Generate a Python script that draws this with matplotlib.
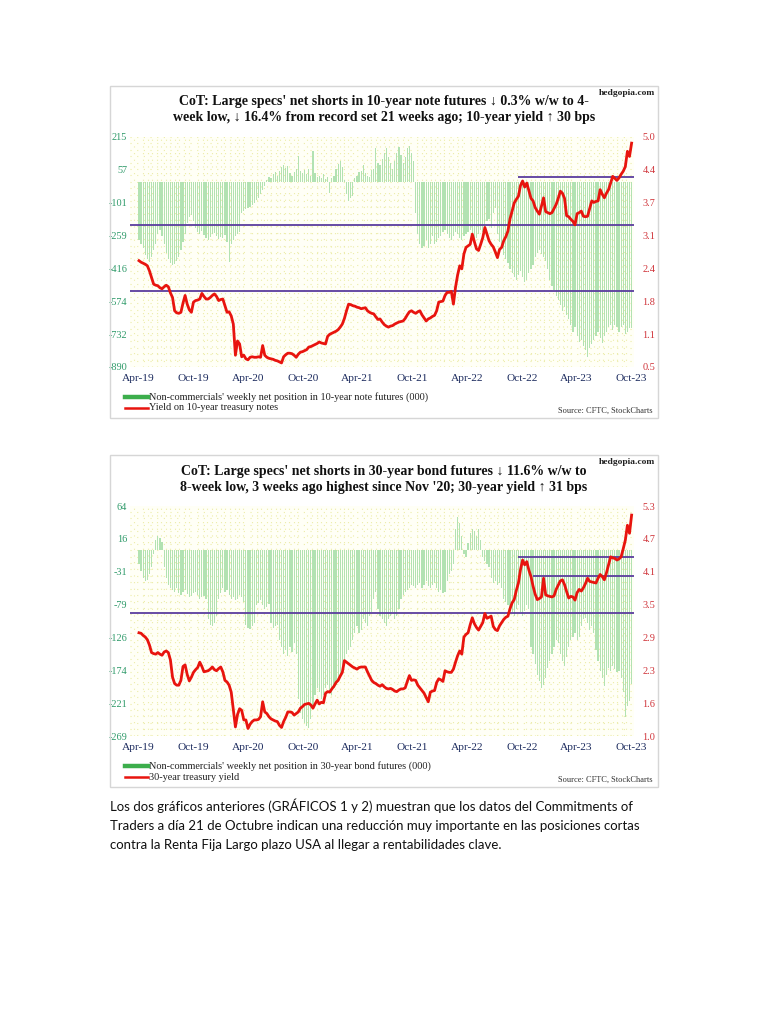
#!/usr/bin/env python3
"""CoT large specs net shorts in 10-year note and 30-year bond futures vs yields."""

import matplotlib
matplotlib.use("Agg")
import matplotlib.pyplot as plt
import matplotlib.dates as mdates
import numpy as np
import pandas as pd
from matplotlib.lines import Line2D
from matplotlib.patches import Rectangle

W, H = 768, 1024

# weekly CoT dates, Apr-2019 .. Oct-2023
weeks = pd.date_range("2019-04-02", periods=236, freq="7D")

tick_dates = pd.to_datetime([
    "2019-04-01", "2019-10-01", "2020-04-01", "2020-10-01", "2021-04-01",
    "2021-10-01", "2022-04-01", "2022-10-01", "2023-04-01", "2023-10-01",
])
tick_labels = ["Apr-19", "Oct-19", "Apr-20", "Oct-20", "Apr-21",
               "Oct-21", "Apr-22", "Oct-22", "Apr-23", "Oct-23"]

# ---- 10-year note: non-commercial net position (000) ----
note_pos_2019 = [-280, -300, -320, -350, -370, -385, -360, -330, -300, -250,
                 -230, -260, -300, -340, -370, -390, -400, -395, -380, -360,
                 -330, -290, -250, -200, -170, -160, -190, -220, -240, -250,
                 -235, -255, -270, -280, -265, -250, -245, -260, -275, -265]
note_pos_2020 = [-270, -255, -290, -387, -300, -280, -260, -250, -240, -150,
                 -140, -130, -125, -120, -110, -100, -90, -80, -60, -40,
                 -20, 10, 25, 20, 35, 45, 30, 50, 70, 80,
                 65, 75, 40, 30, 45, 60, 124, 50, 40, 55,
                 35, 60, 30, 147, 40, 25, 30, 20, 35, 15,
                 25, -54]
note_pos_2021 = [20, 30, 60, 85, 100, 70, 10, -60, -93, -80,
                 -70, 20, 30, 45, 50, 80, 40, 30, 25, 55,
                 60, 163, 90, 80, 110, 140, 160, 120, 90, 60,
                 100, 140, 165, 130, 90, 120, 160, 170, 140, 100,
                 -150, -250, -300, -320, -310, -280, -320, -300, -260, -300,
                 -290, -270]
note_pos_2022 = [-260, -240, -230, -250, -270, -280, -260, -240, -250, -270,
                 -280, -260, -250, -240, -230, -260, -280, -270, -250, -230,
                 -240, -210, -190, -180, -220, -150, -124, -250, -290, -320,
                 -350, -370, -390, -420, -440, -460, -470, -450, -430, -460,
                 -480, -470, -440, -420, -400, -360, -340, -330, -345, -360,
                 -380, -420]
note_pos_2023 = [-470, -500, -520, -550, -570, -590, -620, -600, -640, -660,
                 -690, -720, -700, -740, -770, -760, -790, -810, -841, -800,
                 -780, -760, -740, -720, -750, -775, -740, -720, -700, -690,
                 -710, -690, -700, -720, -700, -690, -730, -720, -705, -703]

# ---- 10-year treasury yield (%) ----
note_yld_2019 = [2.58, 2.55, 2.53, 2.51, 2.48, 2.38, 2.25, 2.12, 2.10, 2.09,
                 2.05, 2.03, 2.07, 2.10, 2.07, 1.95, 1.86, 1.60, 1.56, 1.55,
                 1.57, 1.75, 1.90, 1.73, 1.62, 1.57, 1.77, 1.80, 1.81, 1.83,
                 1.94, 1.88, 1.83, 1.83, 1.86, 1.90, 1.93, 1.88, 1.80, 1.82]
note_yld_2020 = [1.83, 1.70, 1.57, 1.58, 1.50, 1.34, 0.73, 1.01, 0.95, 0.70,
                 0.73, 0.66, 0.64, 0.69, 0.70, 0.69, 0.69, 0.70, 0.69, 0.92,
                 0.73, 0.69, 0.67, 0.66, 0.65, 0.63, 0.62, 0.60, 0.58, 0.70,
                 0.74, 0.77, 0.77, 0.76, 0.73, 0.69, 0.75, 0.79, 0.80, 0.82,
                 0.84, 0.89, 0.90, 0.92, 0.94, 0.96, 0.99, 0.97, 0.96, 0.95,
                 1.10, 1.14]
note_yld_2021 = [1.16, 1.18, 1.20, 1.23, 1.28, 1.34, 1.45, 1.60, 1.73, 1.72,
                 1.70, 1.69, 1.67, 1.66, 1.64, 1.65, 1.66, 1.60, 1.57, 1.55,
                 1.54, 1.48, 1.43, 1.44, 1.38, 1.33, 1.30, 1.28, 1.30, 1.31,
                 1.34, 1.36, 1.38, 1.39, 1.40, 1.45, 1.52, 1.58, 1.60, 1.57,
                 1.55, 1.58, 1.60, 1.52, 1.46, 1.40, 1.44, 1.46, 1.49, 1.51,
                 1.60, 1.77]
note_yld_2022 = [1.78, 1.79, 1.90, 1.96, 1.96, 1.98, 1.73, 2.06, 2.30, 2.48,
                 2.42, 2.71, 2.84, 2.87, 2.90, 3.10, 2.95, 2.81, 2.78, 2.90,
                 3.03, 3.23, 3.10, 2.97, 2.90, 2.85, 2.75, 2.64, 2.80, 2.84,
                 2.97, 3.05, 3.16, 3.40, 3.55, 3.71, 3.78, 3.84, 4.05, 4.14,
                 4.02, 4.10, 3.95, 3.80, 3.75, 3.62, 3.55, 3.49, 3.65, 3.81,
                 3.54, 3.52]
note_yld_2023 = [3.50, 3.52, 3.60, 3.68, 3.80, 3.94, 3.90, 3.80, 3.46, 3.44,
                 3.39, 3.35, 3.28, 3.50, 3.52, 3.55, 3.45, 3.44, 3.45, 3.60,
                 3.75, 3.72, 3.74, 3.75, 3.97, 3.88, 3.81, 3.90, 3.97, 4.10,
                 4.23, 4.19, 4.15, 4.20, 4.27, 4.33, 4.42, 4.72, 4.62, 4.88]

# ---- 30-year bond: non-commercial net position (000) ----
bond_pos_2019 = [-20, -30, -40, -45, -43, -35, -25, -5, 15, 20,
                 18, 12, -25, -40, -50, -55, -57, -60, -55, -62,
                 -65, -60, -58, -64, -68, -66, -62, -60, -65, -70,
                 -68, -66, -70, -100, -108, -110, -105, -95, -70, -62]
bond_pos_2020 = [-55, -60, -58, -65, -70, -68, -72, -70, -65, -68,
                 -75, -108, -112, -114, -110, -105, -80, -76, -72, -80,
                 -85, -82, -78, -105, -112, -110, -108, -130, -140, -150,
                 -145, -153, -140, -148, -135, -150, -215, -235, -245, -250,
                 -255, -258, -245, -230, -210, -200, -205, -215, -210, -200,
                 -195, -205]
bond_pos_2021 = [-210, -200, -195, -185, -180, -170, -160, -150, -145, -140,
                 -130, -120, -110, -120, -115, -100, -105, -110, -95, -90,
                 -70, -60, -85, -95, -100, -105, -110, -100, -95, -90,
                 -100, -95, -85, -70, -65, -60, -58, -55, -50, -52,
                 -55, -50, -48, -55, -50, -45, -52, -55, -50, -48,
                 -55, -60]
bond_pos_2022 = [-58, -62, -60, -45, -35, -30, -20, 30, 48, 40,
                 20, -5, -10, 10, 25, 30, 28, 20, 30, 15,
                 -10, -15, -20, -25, -40, -47, -45, -50, -48, -55,
                 -70, -75, -80, -85, -90, -95, -85, -80, -90, -95,
                 -88, -80, -85, -140, -150, -165, -180, -190, -200, -195,
                 -185, -170]
bond_pos_2023 = [-160, -150, -140, -130, -135, -150, -160, -167, -155, -140,
                 -130, -125, -120, -130, -125, -110, -100, -98, -105, -115,
                 -110, -120, -145, -160, -175, -185, -196, -180, -170, -175,
                 -168, -172, -177, -175, -185, -205, -242, -225, -218, -193]

# ---- 30-year treasury yield (%) ----
bond_yld_2019 = [2.93, 2.92, 2.88, 2.85, 2.80, 2.70, 2.56, 2.54, 2.53, 2.56,
                 2.53, 2.51, 2.57, 2.59, 2.56, 2.42, 2.10, 1.98, 1.95, 1.95,
                 2.04, 2.30, 2.33, 2.15, 2.03, 2.10, 2.19, 2.24, 2.28, 2.38,
                 2.30, 2.20, 2.21, 2.22, 2.25, 2.29, 2.24, 2.22, 2.26, 2.29]
bond_yld_2020 = [2.20, 2.04, 2.01, 1.95, 1.82, 1.50, 1.17, 1.40, 1.51, 1.48,
                 1.30, 1.30, 1.14, 1.22, 1.27, 1.30, 1.30, 1.31, 1.36, 1.64,
                 1.45, 1.42, 1.36, 1.32, 1.30, 1.28, 1.27, 1.20, 1.16, 1.27,
                 1.35, 1.45, 1.45, 1.44, 1.39, 1.42, 1.45, 1.52, 1.55, 1.59,
                 1.60, 1.61, 1.58, 1.52, 1.60, 1.67, 1.60, 1.63, 1.62, 1.80,
                 1.83, 1.82]
bond_yld_2021 = [1.88, 1.93, 2.00, 2.04, 2.12, 2.19, 2.41, 2.38, 2.35, 2.32,
                 2.29, 2.27, 2.25, 2.28, 2.29, 2.29, 2.29, 2.20, 2.12, 2.04,
                 2.00, 1.98, 1.95, 1.93, 1.96, 1.92, 1.89, 1.88, 1.89, 1.87,
                 1.84, 1.83, 1.86, 1.88, 1.88, 1.90, 2.02, 2.13, 2.04, 2.05,
                 2.04, 1.95, 1.90, 1.85, 1.80, 1.72, 1.64, 1.82, 1.84, 1.85,
                 2.00, 2.07]
bond_yld_2022 = [2.05, 2.02, 2.22, 2.20, 2.19, 2.19, 2.25, 2.38, 2.50, 2.59,
                 2.53, 2.85, 2.90, 2.93, 3.08, 3.21, 3.10, 3.03, 2.98, 3.05,
                 3.12, 3.29, 3.20, 3.22, 3.24, 3.05, 2.99, 2.97, 3.06, 3.12,
                 3.18, 3.22, 3.24, 3.38, 3.49, 3.55, 3.72, 3.86, 4.11, 4.29,
                 4.20, 4.26, 4.10, 3.98, 3.80, 3.65, 3.55, 3.57, 3.60, 3.95,
                 3.64, 3.62]
bond_yld_2023 = [3.61, 3.60, 3.62, 3.74, 3.82, 3.90, 3.92, 3.83, 3.70, 3.58,
                 3.61, 3.60, 3.54, 3.68, 3.74, 3.71, 3.77, 3.85, 3.95, 3.89,
                 3.88, 3.87, 3.86, 3.95, 4.02, 3.98, 3.92, 4.05, 4.20, 4.35,
                 4.33, 4.32, 4.29, 4.31, 4.35, 4.50, 4.66, 4.94, 4.79, 5.13]

note_pos = note_pos_2019 + note_pos_2020 + note_pos_2021 + note_pos_2022 + note_pos_2023
note_yld = note_yld_2019 + note_yld_2020 + note_yld_2021 + note_yld_2022 + note_yld_2023
bond_pos = bond_pos_2019 + bond_pos_2020 + bond_pos_2021 + bond_pos_2022 + bond_pos_2023
bond_yld = bond_yld_2019 + bond_yld_2020 + bond_yld_2021 + bond_yld_2022 + bond_yld_2023

note_left_labels = ["-890", "-732", "-574", "-416", "-259", "-101", "57", "215"]
note_right_labels = ["0.5", "1.1", "1.8", "2.4", "3.1", "3.7", "4.4", "5.0"]
bond_left_labels = ["-269", "-221", "-174", "-126", "-79", "-31", "16", "64"]
bond_right_labels = ["1.0", "1.6", "2.3", "2.9", "3.5", "4.1", "4.7", "5.3"]

# support / resistance levels on the yield axis: (level, start date or None)
note_levels = [(3.27, None), (1.99, None), (4.22, "2022-09-20")]
bond_levels = [(3.30, None), (4.34, "2022-09-20"), (4.00, "2022-11-08")]

note_title = ["CoT: Large specs' net shorts in 10-year note futures \u2193 0.3% w/w to 4-",
              "week low, \u2193 16.4% from record set 21 weeks ago; 10-year yield \u2191 30 bps"]
bond_title = ["CoT: Large specs' net shorts in 30-year bond futures \u2193 11.6% w/w to",
              "8-week low, 3 weeks ago highest since Nov '20; 30-year yield \u2191 31 bps"]
note_legend = ["Non-commercials' weekly net position in 10-year note futures (000)",
               "Yield on 10-year treasury notes"]
bond_legend = ["Non-commercials' weekly net position in 30-year bond futures (000)",
               "30-year treasury yield"]

paragraph = [
    "Los dos gráficos anteriores (GRÁFICOS 1 y 2) muestran que los datos del Commitments of",
    "Traders a día 21 de Octubre indican una reducción muy importante en las posiciones cortas",
    "contra la Renta Fija Largo plazo USA al llegar a rentabilidades clave.",
]

SERIF = ["Liberation Serif", "DejaVu Serif"]
GREEN_TXT = "#2f9a6a"
RED_TXT = "#d0343a"
NAVY = "#1c2b5e"
BAR = "#b2e2b2"
RED = "#e8140e"
PURPLE = "#5a3d9e"


def fx(x):
    return x / W


def fy(y):
    return 1 - y / H


def panel(fig, top, pos, yld, left_labels, left_lim, right_labels, right_lim,
          levels, title, legend):
    # top = y pixel of the chart frame's upper edge
    frame = Rectangle((fx(110), fy(top + 332)), 548 / W, 332 / H,
                      transform=fig.transFigure, fill=False,
                      ec="#d6d6d6", lw=1.0)
    fig.patches.append(frame)

    fig.text(fx(655), fy(top + 7), "hedgopia.com", ha="right", va="center",
             fontsize=6.8, fontweight="bold", family=SERIF, color="#222")
    for k, line in enumerate(title):
        fig.text(fx(384), fy(top + 16 + 16 * k), line, ha="center", va="center",
                 fontsize=10.0, fontweight="bold", family=SERIF, color="#111")

    y0, y1 = top + 51, top + 281
    ax = fig.add_axes([fx(130), fy(y1), (634 - 130) / W, (y1 - y0) / H])
    ax.set_facecolor("#fffff6")
    ax.bar(weeks, pos, width=4.0, color=BAR, linewidth=0, zorder=2,
           antialiased=False)
    ax.set_ylim(*left_lim)
    ax.set_xlim(weeks[0] - pd.Timedelta(days=30), weeks[-1] + pd.Timedelta(days=8))
    ax.set_yticks(np.linspace(left_lim[0], left_lim[1], 8))
    ax.set_yticklabels(left_labels, color=GREEN_TXT, fontsize=7.4, family=SERIF)
    ax.set_xticks(tick_dates)
    ax.set_xticklabels(tick_labels, color=NAVY, fontsize=8.2, family=SERIF)

    # pale yellow dotted texture
    ax.xaxis.set_minor_locator(mdates.DayLocator(bymonthday=[1, 15]))
    ax.yaxis.set_minor_locator(plt.MultipleLocator((left_lim[1] - left_lim[0]) / 36))
    ax.grid(which="minor", color="#ececa8", lw=0.8, ls=(0, (1, 5)))
    ax.set_axisbelow(True)
    ax.tick_params(which="both", length=0)
    ax.tick_params(axis="y", pad=2)
    ax.tick_params(axis="x", pad=5)
    for s in ax.spines.values():
        s.set_visible(False)

    ax2 = ax.twinx()
    ax2.set_ylim(*right_lim)
    ax2.set_yticks(np.linspace(right_lim[0], right_lim[1], 8))
    ax2.set_yticklabels(right_labels, color=RED_TXT, fontsize=7.4, family=SERIF)
    ax2.tick_params(which="both", length=0, pad=6)
    for s in ax2.spines.values():
        s.set_visible(False)

    xmax = ax.get_xlim()[1]
    for level, start in levels:
        if start is None:
            ax2.axhline(level, color=PURPLE, lw=1.3, zorder=2)
        else:
            ax2.hlines(level, mdates.date2num(pd.Timestamp(start)), xmax,
                       color=PURPLE, lw=1.3, zorder=2)
    ax2.plot(weeks, yld, color=RED, lw=2.0, zorder=3, solid_joinstyle="round")
    ax2.set_xlim(ax.get_xlim())

    ly1, ly2 = top + 311, top + 322
    fig.lines.append(Line2D([fx(125), fx(148)], [fy(ly1)] * 2, color="#3cae4c",
                            lw=3.2, transform=fig.transFigure))
    fig.lines.append(Line2D([fx(125), fx(148)], [fy(ly2)] * 2, color=RED,
                            lw=1.8, transform=fig.transFigure))
    fig.text(fx(149), fy(ly1), legend[0], ha="left", va="center", fontsize=7.4,
             family=SERIF, color="#222")
    fig.text(fx(149), fy(ly2), legend[1], ha="left", va="center", fontsize=7.4,
             family=SERIF, color="#222")
    fig.text(fx(652), fy(ly2 + 3), "Source: CFTC, StockCharts", ha="right",
             va="center", fontsize=6.0, family=SERIF, color="#333")


def main():
    fig = plt.figure(figsize=(W / 100, H / 100), dpi=100)
    fig.patch.set_facecolor("white")

    panel(fig, 86, note_pos, note_yld, note_left_labels, (-890, 215),
          note_right_labels, (0.5, 5.0), note_levels, note_title, note_legend)
    panel(fig, 455, bond_pos, bond_yld, bond_left_labels, (-269, 64),
          bond_right_labels, (1.0, 5.3), bond_levels, bond_title, bond_legend)

    for i, line in enumerate(paragraph):
        fig.text(fx(110), fy(806 + 19.5 * i), line, ha="left", va="center",
                 fontsize=9.5, family=["Lato", "DejaVu Sans"], color="#111")

    fig.savefig("out.png", dpi=100)
    plt.close(fig)


if __name__ == "__main__":
    main()
